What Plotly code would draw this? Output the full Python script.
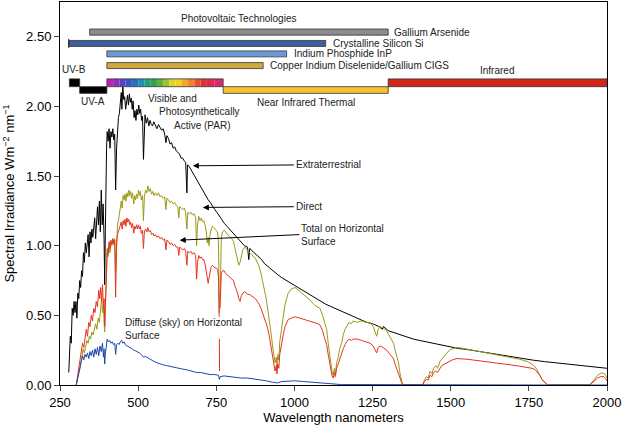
import plotly.graph_objects as go

# wavelength (nm) and irradiance (W m-2 nm-1)
extra_wl = [278, 280, 283, 286, 289, 292, 295, 298, 301, 304, 307, 310, 313, 316, 319, 322, 325, 328, 331, 334,
            337, 340, 343, 346, 349, 352, 355, 358, 361, 364, 367, 370, 373, 376, 379, 382, 385, 388, 391, 393,
            395, 397, 399, 401, 404, 407, 410, 413, 416, 419, 422, 425, 428, 431, 434, 437, 440, 443, 446, 448,
            451, 454, 457, 460, 463, 466, 469, 472, 475, 478, 481, 484, 487, 490, 493, 496, 499, 502, 505, 508,
            511, 514, 517, 519, 522, 526, 530, 534, 538, 542, 546, 550, 555, 560, 565, 570, 575, 580, 585, 589,
            592, 597, 602, 607, 612, 617, 622, 627, 632, 637, 642, 647, 652, 656, 658, 663, 668, 673, 678, 683,
            688, 693, 698, 703, 710, 717, 724, 731, 738, 745, 752, 760, 768, 776, 784, 792, 800, 810, 820, 830,
            840, 850, 854, 857, 866, 875, 885, 895, 905, 915, 925, 935, 948, 960, 975, 990, 1002, 1020, 1040, 1055,
            1070, 1085, 1100, 1120, 1140, 1160, 1180, 1200, 1215, 1231, 1250, 1270, 1282, 1285, 1300, 1320, 1338, 1360, 1380, 1400,
            1420, 1445, 1470, 1500, 1525, 1552, 1580, 1610, 1640, 1670, 1700, 1735, 1765, 1800, 1840, 1872, 1900, 1930, 1960, 2000]
extra_val = [0.09, 0.20, 0.35, 0.30, 0.55, 0.50, 0.60, 0.52, 0.60, 0.48, 0.66, 0.62, 0.75, 0.70, 0.82, 0.78, 0.95, 0.88, 1.02, 0.95,
             1.00, 1.08, 0.92, 1.10, 1.02, 1.12, 1.06, 1.15, 1.20, 1.05, 1.20, 1.28, 1.15, 1.32, 1.10, 1.40, 1.15, 1.30, 1.05, 0.72,
             1.10, 1.55, 1.70, 1.82, 1.75, 1.84, 1.70, 1.82, 1.78, 1.84, 1.76, 1.80, 1.40, 1.70, 1.88, 1.92, 1.95, 2.04, 2.10, 1.98,
             2.14, 2.05, 2.07, 1.98, 2.03, 2.08, 2.01, 2.09, 2.03, 2.06, 1.98, 2.04, 1.92, 1.97, 1.90, 1.98, 1.94, 2.01, 1.95, 1.98,
             1.90, 1.93, 1.62, 1.85, 1.94, 1.88, 1.92, 1.86, 1.90, 1.87, 1.86, 1.89, 1.86, 1.84, 1.87, 1.85, 1.83, 1.84, 1.80, 1.74,
             1.79, 1.77, 1.73, 1.74, 1.70, 1.71, 1.68, 1.67, 1.66, 1.63, 1.63, 1.61, 1.60, 1.38, 1.58, 1.57, 1.55, 1.54, 1.51, 1.49,
             1.47, 1.45, 1.44, 1.42, 1.39, 1.36, 1.33, 1.31, 1.28, 1.26, 1.24, 1.21, 1.19, 1.16, 1.14, 1.12, 1.10, 1.08, 1.05, 1.03,
             1.00, 0.99, 0.90, 0.98, 0.96, 0.94, 0.92, 0.90, 0.87, 0.85, 0.83, 0.81, 0.79, 0.77, 0.75, 0.73, 0.71, 0.69, 0.66, 0.64,
             0.62, 0.60, 0.58, 0.56, 0.54, 0.52, 0.50, 0.48, 0.47, 0.45, 0.44, 0.42, 0.40, 0.42, 0.39, 0.375, 0.36, 0.345, 0.33, 0.32,
             0.31, 0.30, 0.285, 0.27, 0.262, 0.255, 0.245, 0.232, 0.22, 0.21, 0.20, 0.185, 0.178, 0.168, 0.158, 0.15, 0.143, 0.135, 0.128, 0.12]

direct_wl = [302, 308, 314, 320, 324, 328, 332, 336, 340, 344, 348, 352, 356, 360, 364, 368, 372, 376, 380, 383,
             386, 389, 391, 393, 395, 398, 401, 404, 407, 410, 413, 416, 419, 422, 425, 428, 431, 434, 437, 440,
             443, 446, 449, 452, 455, 458, 461, 464, 467, 470, 473, 476, 479, 482, 486, 489, 492, 495, 498, 501,
             504, 507, 510, 514, 517, 520, 524, 528, 531, 535, 539, 543, 547, 551, 555, 560, 565, 570, 575, 580,
             585, 589, 592, 597, 602, 607, 612, 617, 622, 627, 630, 633, 638, 643, 648, 652, 656, 659, 664, 669,
             674, 679, 684, 687, 690, 694, 698, 702, 706, 710, 714, 718, 721, 724, 727, 730, 734, 738, 742, 746,
             750, 754, 757, 760, 763, 766, 770, 775, 780, 785, 790, 795, 800, 805, 810, 814, 818, 822, 826, 830,
             835, 841, 846, 851, 857, 863, 869, 875, 881, 887, 893, 898, 903, 908, 913, 918, 922, 926, 930, 934,
             938, 942, 944, 947, 950, 953, 957, 961, 965, 970, 975, 980, 990, 1002, 1018, 1034, 1050, 1066, 1075, 1082,
             1090, 1096, 1103, 1108, 1112, 1116, 1120, 1124, 1128, 1131, 1135, 1140, 1145, 1151, 1156, 1162, 1167, 1175, 1182, 1188,
             1200, 1215, 1228, 1242, 1252, 1258, 1263, 1268, 1274, 1283, 1290, 1295, 1302, 1310, 1317, 1322, 1327, 1333, 1338, 1344,
             1350, 1410, 1415, 1422, 1428, 1434, 1440, 1445, 1452, 1458, 1466, 1472, 1480, 1488, 1496, 1505, 1520, 1535, 1552, 1570,
             1590, 1610, 1630, 1659, 1690, 1720, 1744, 1760, 1770, 1776, 1785, 1792, 1800, 1810, 1945, 1952, 1960, 1970, 1980, 1990,
             1996, 2000]
direct_val = [0.0, 0.05, 0.12, 0.20, 0.26, 0.23, 0.28, 0.32, 0.30, 0.35, 0.33, 0.38, 0.36, 0.40, 0.44, 0.40, 0.48, 0.45, 0.55, 0.62,
              0.52, 0.56, 0.45, 0.38, 0.55, 0.82, 0.95, 0.92, 1.00, 0.95, 1.02, 1.00, 1.05, 1.02, 1.05, 0.82, 1.05, 1.15, 1.18, 1.22,
              1.28, 1.32, 1.27, 1.36, 1.33, 1.37, 1.32, 1.38, 1.35, 1.40, 1.36, 1.39, 1.34, 1.38, 1.30, 1.36, 1.33, 1.37, 1.34, 1.40,
              1.36, 1.39, 1.33, 1.36, 1.18, 1.35, 1.40, 1.38, 1.43, 1.39, 1.41, 1.37, 1.39, 1.36, 1.38, 1.36, 1.38, 1.35, 1.36, 1.34,
              1.35, 1.26, 1.34, 1.33, 1.31, 1.32, 1.30, 1.31, 1.29, 1.28, 1.20, 1.28, 1.27, 1.26, 1.27, 1.24, 1.12, 1.24, 1.23, 1.24,
              1.22, 1.23, 1.20, 1.00, 1.15, 1.21, 1.18, 1.20, 1.17, 1.18, 1.15, 1.10, 1.02, 1.06, 1.00, 1.08, 1.12, 1.14, 1.13, 1.12,
              1.11, 1.10, 1.02, 0.52, 0.70, 1.05, 1.10, 1.11, 1.10, 1.08, 1.07, 1.06, 1.05, 1.03, 0.98, 0.95, 0.90, 0.86, 0.88, 0.93,
              0.97, 0.99, 0.98, 0.96, 0.95, 0.94, 0.92, 0.91, 0.88, 0.85, 0.80, 0.75, 0.70, 0.64, 0.57, 0.50, 0.44, 0.36, 0.28, 0.22,
              0.16, 0.20, 0.13, 0.22, 0.18, 0.31, 0.38, 0.45, 0.50, 0.58, 0.62, 0.66, 0.69, 0.70, 0.67, 0.64, 0.61, 0.57, 0.56, 0.55,
              0.50, 0.45, 0.40, 0.30, 0.22, 0.16, 0.10, 0.07, 0.12, 0.08, 0.16, 0.20, 0.26, 0.30, 0.36, 0.40, 0.42, 0.45, 0.44, 0.46,
              0.45, 0.46, 0.45, 0.45, 0.42, 0.38, 0.35, 0.40, 0.42, 0.41, 0.40, 0.39, 0.36, 0.33, 0.30, 0.25, 0.20, 0.16, 0.08, 0.02,
              0.0, 0.0, 0.03, 0.06, 0.05, 0.10, 0.08, 0.12, 0.14, 0.12, 0.17, 0.19, 0.21, 0.23, 0.25, 0.26, 0.27, 0.265, 0.258, 0.25,
              0.24, 0.232, 0.223, 0.21, 0.20, 0.185, 0.17, 0.15, 0.13, 0.11, 0.07, 0.04, 0.02, 0.0, 0.0, 0.02, 0.05, 0.07, 0.085, 0.085,
              0.07, 0.05]

total_wl = [302, 306, 310, 314, 318, 322, 326, 330, 334, 338, 342, 346, 350, 354, 358, 362, 366, 370, 374, 377,
            380, 383, 386, 389, 391, 393, 395, 398, 401, 404, 407, 410, 413, 416, 419, 422, 425, 428, 431, 434,
            437, 440, 443, 446, 449, 452, 455, 458, 461, 464, 467, 470, 473, 476, 479, 482, 486, 489, 492, 495,
            498, 501, 504, 507, 510, 514, 517, 520, 524, 528, 531, 535, 539, 543, 547, 551, 555, 560, 565, 570,
            575, 580, 585, 589, 592, 597, 602, 607, 612, 617, 622, 627, 630, 633, 638, 643, 648, 652, 656, 659,
            664, 669, 674, 679, 684, 687, 690, 694, 698, 702, 706, 710, 714, 718, 721, 724, 727, 730, 734, 738,
            742, 746, 750, 754, 757, 759, 759.5, 760, 760.4, 760.8, 762, 764, 766, 770, 775, 780, 785, 790, 795, 800,
            805, 810, 814, 818, 822, 826, 830, 835, 841, 846, 851, 857, 863, 869, 875, 881, 887, 893, 898, 903,
            908, 913, 918, 922, 926, 930, 934, 938, 942, 944, 947, 950, 953, 957, 961, 965, 970, 975, 980, 990,
            1002, 1018, 1034, 1050, 1066, 1075, 1082, 1090, 1096, 1103, 1108, 1112, 1116, 1120, 1124, 1128, 1131, 1135, 1140, 1145,
            1151, 1156, 1162, 1167, 1175, 1182, 1188, 1200, 1215, 1228, 1242, 1252, 1258, 1263, 1268, 1274, 1283, 1290, 1295, 1302,
            1310, 1317, 1322, 1327, 1333, 1338, 1344, 1350, 1410, 1415, 1422, 1428, 1434, 1440, 1445, 1452, 1458, 1466, 1472, 1480,
            1488, 1505, 1520, 1535, 1552, 1570, 1590, 1610, 1630, 1659, 1690, 1720, 1744, 1760, 1770, 1776, 1785, 1792, 1800, 1810,
            1945, 1952, 1960, 1970, 1980, 1990, 1996, 2000]
total_val = [0.0, 0.06, 0.12, 0.20, 0.26, 0.30, 0.27, 0.36, 0.40, 0.35, 0.45, 0.42, 0.50, 0.46, 0.55, 0.52, 0.60, 0.56, 0.68, 0.62,
             0.70, 0.60, 0.72, 0.55, 0.62, 0.42, 0.60, 0.88, 0.98, 0.94, 1.03, 0.98, 1.04, 1.01, 1.05, 1.01, 1.04, 0.63, 1.02, 1.08,
             1.10, 1.12, 1.15, 1.17, 1.12, 1.18, 1.15, 1.19, 1.14, 1.20, 1.17, 1.19, 1.15, 1.17, 1.13, 1.16, 1.09, 1.14, 1.12, 1.15,
             1.12, 1.15, 1.12, 1.14, 1.09, 1.11, 0.98, 1.10, 1.12, 1.10, 1.13, 1.10, 1.11, 1.08, 1.09, 1.07, 1.08, 1.06, 1.07, 1.05,
             1.06, 1.04, 1.05, 0.97, 1.04, 1.03, 1.01, 1.02, 1.00, 1.01, 0.99, 0.99, 0.93, 0.99, 0.98, 0.97, 0.98, 0.96, 0.86, 0.96,
             0.95, 0.96, 0.94, 0.95, 0.93, 0.76, 0.88, 0.93, 0.91, 0.92, 0.90, 0.90, 0.87, 0.82, 0.76, 0.73, 0.77, 0.82, 0.85, 0.86,
             0.85, 0.84, 0.84, 0.83, 0.78, 0.49, None, 0.33, 0.10, None, 0.55, 0.70, 0.80, 0.82, 0.82, 0.80, 0.79, 0.78, 0.77, 0.76,
             0.75, 0.71, 0.69, 0.66, 0.62, 0.60, 0.64, 0.66, 0.67, 0.66, 0.65, 0.65, 0.64, 0.63, 0.62, 0.60, 0.58, 0.55, 0.52, 0.49,
             0.46, 0.42, 0.37, 0.32, 0.26, 0.20, 0.14, 0.10, 0.14, 0.08, 0.15, 0.12, 0.22, 0.28, 0.33, 0.37, 0.42, 0.45, 0.47, 0.48,
             0.49, 0.48, 0.47, 0.46, 0.45, 0.44, 0.43, 0.39, 0.34, 0.29, 0.22, 0.16, 0.12, 0.07, 0.05, 0.09, 0.06, 0.12, 0.15, 0.19,
             0.22, 0.26, 0.29, 0.31, 0.33, 0.32, 0.33, 0.33, 0.32, 0.31, 0.30, 0.28, 0.25, 0.23, 0.27, 0.28, 0.27, 0.26, 0.25, 0.23,
             0.21, 0.19, 0.15, 0.11, 0.08, 0.05, 0.01, 0.0, 0.0, 0.02, 0.04, 0.035, 0.07, 0.06, 0.09, 0.10, 0.09, 0.12, 0.14, 0.15,
             0.16, 0.18, 0.19, 0.19, 0.185, 0.18, 0.175, 0.17, 0.165, 0.155, 0.145, 0.135, 0.128, 0.12, 0.11, 0.095, 0.07, 0.04, 0.02, 0.0,
             0.0, 0.015, 0.035, 0.05, 0.06, 0.06, 0.045, 0.03]

diffuse_wl = [302, 306, 310, 314, 318, 322, 326, 330, 334, 338, 342, 346, 350, 354, 358, 362, 366, 370, 374, 378,
              382, 386, 389, 391, 393, 395, 398, 401, 405, 409, 413, 417, 421, 425, 428, 431, 435, 439, 443, 447,
              451, 455, 459, 463, 467, 471, 475, 480, 486, 492, 498, 504, 510, 517, 524, 531, 540, 550, 560, 570,
              580, 590, 600, 612, 625, 640, 654, 670, 687, 700, 720, 730, 745, 757, 760, 763, 775, 790, 810, 830,
              850, 870, 890, 910, 930, 945, 960, 980, 1000, 1030, 1060, 1090, 1110, 1130, 1150, 1200, 1300, 1350, 1400, 1500,
              1600, 1700, 1800, 2000]
diffuse_val = [0.0, 0.05, 0.10, 0.14, 0.17, 0.21, 0.18, 0.22, 0.20, 0.23, 0.19, 0.24, 0.21, 0.25, 0.20, 0.26, 0.22, 0.27, 0.21, 0.28,
               0.24, 0.30, 0.20, 0.26, 0.15, 0.22, 0.30, 0.33, 0.31, 0.32, 0.30, 0.31, 0.29, 0.30, 0.22, 0.29, 0.30, 0.29, 0.31, 0.32,
               0.30, 0.31, 0.29, 0.28, 0.28, 0.27, 0.27, 0.26, 0.25, 0.245, 0.24, 0.23, 0.22, 0.20, 0.205, 0.195, 0.18, 0.17, 0.16, 0.15,
               0.145, 0.14, 0.135, 0.125, 0.12, 0.115, 0.11, 0.10, 0.09, 0.09, 0.08, 0.075, 0.075, 0.07, 0.04, 0.06, 0.065, 0.06, 0.055, 0.05,
               0.05, 0.045, 0.04, 0.03, 0.02, 0.015, 0.025, 0.03, 0.03, 0.025, 0.02, 0.015, 0.008, 0.004, 0.003, 0.003, 0.002, 0.0, 0.0, 0.002,
               0.002, 0.001, 0.0, 0.0]

# photovoltaic technology bands (nm)
pv_names = ["Gallium Arsenide", "Crystalline Silicon Si", "Indium Phosphide InP", "Copper Indium Diselenide/Gallium CIGS"]
pv_start = [345, 278, 400, 400]
pv_end = [1300, 1100, 975, 900]
pv_colors = ["#8c8c8c", "#3d5f9e", "#6a9ad8", "#cfa93e"]
pv_rows = [(2.512, 2.556), (2.431, 2.474), (2.356, 2.399), (2.272, 2.315)]

# spectral regions (nm)
region_names = ["UV-B", "UV-A", "Visible and Photosynthetically Active (PAR)", "Near Infrared Thermal", "Infrared"]
region_start = [280, 313, 400, 772, 1300]
region_end = [313, 400, 772, 1300, 2000]
region_colors = ["black", "black", None, "#f7c12f", "#d2261a"]
region_rows = [(2.142, 2.198), (2.094, 2.142), (2.142, 2.198), (2.094, 2.142), (2.142, 2.198)]

# colours along the visible bar
rainbow_wl = [400, 420, 440, 460, 480, 500, 520, 540, 560, 580, 600, 620, 640, 660, 680, 700, 720, 745, 772]
rainbow_col = ["#c020b0", "#9030b8", "#6040c0", "#3858c0", "#2a70c0", "#2090b0", "#20a080", "#30a050", "#60b040",
               "#a0c030", "#d8d828", "#f0d020", "#f0a828", "#f08030", "#e85030", "#e03038", "#e02850", "#d82870"]

fig = go.Figure()

fig.add_trace(go.Scatter(x=extra_wl, y=extra_val, mode='lines', line=dict(color='black', width=1), name='Extraterrestrial'))
fig.add_trace(go.Scatter(x=direct_wl, y=direct_val, mode='lines', line=dict(color='#9a9a18', width=1), name='Direct'))
fig.add_trace(go.Scatter(x=total_wl, y=total_val, mode='lines', line=dict(color='#e8321e', width=1), connectgaps=False,
                         name='Total on Horizontal Surface'))
fig.add_trace(go.Scatter(x=diffuse_wl, y=diffuse_val, mode='lines', line=dict(color='#1f45b0', width=1), name='Diffuse'))

shapes = []
for i in range(len(pv_names)):
    shapes.append(dict(type='rect', xref='x', yref='y', x0=pv_start[i], x1=pv_end[i], y0=pv_rows[i][0], y1=pv_rows[i][1],
                       fillcolor=pv_colors[i], line=dict(color='#333333', width=0.8)))
for i in range(len(region_names)):
    if region_colors[i] is None:
        continue
    shapes.append(dict(type='rect', xref='x', yref='y', x0=region_start[i], x1=region_end[i], y0=region_rows[i][0],
                       y1=region_rows[i][1], fillcolor=region_colors[i], line=dict(color='#333333', width=0.8)))
for i in range(len(rainbow_col)):
    shapes.append(dict(type='rect', xref='x', yref='y', x0=rainbow_wl[i], x1=rainbow_wl[i + 1], y0=region_rows[2][0],
                       y1=region_rows[2][1], fillcolor=rainbow_col[i], line=dict(width=0)))
shapes.append(dict(type='rect', xref='x', yref='y', x0=region_start[2], x1=region_end[2], y0=region_rows[2][0],
                   y1=region_rows[2][1], line=dict(color='#333333', width=0.8)))
# little end mark on the silicon bar
shapes.append(dict(type='line', xref='x', yref='y', x0=pv_start[1], x1=pv_start[1], y0=2.42, y1=2.485,
                   line=dict(color='#222222', width=1)))

txt = dict(family='Liberation Sans, Arial', size=10, color='#222222')
ann = []
ann.append(dict(x=822, y=2.635, text='Photovoltaic Technologies', showarrow=False, font=txt))
ann.append(dict(x=1313, y=2.533, text=pv_names[0], showarrow=False, xanchor='left', font=txt))
ann.append(dict(x=1117, y=2.452, text=pv_names[1], showarrow=False, xanchor='left', font=txt))
ann.append(dict(x=992, y=2.378, text=pv_names[2], showarrow=False, xanchor='left', font=txt))
ann.append(dict(x=915, y=2.294, text=pv_names[3], showarrow=False, xanchor='left', font=txt))
ann.append(dict(x=296, y=2.262, text='UV-B', showarrow=False, font=txt))
ann.append(dict(x=354, y=2.037, text='UV-A', showarrow=False, font=txt))
ann.append(dict(x=610, y=2.058, text='Visible and', showarrow=False, font=txt))
ann.append(dict(x=697, y=1.966, text='Photosynthetically', showarrow=False, font=txt))
ann.append(dict(x=707, y=1.866, text='Active (PAR)', showarrow=False, font=txt))
ann.append(dict(x=1037, y=2.030, text='Near Infrared Thermal', showarrow=False, font=txt))
ann.append(dict(x=1649, y=2.258, text='Infrared', showarrow=False, font=txt))
ann.append(dict(x=450, y=0.405, text='Diffuse (sky) on Horizontal<br>Surface', showarrow=False, xanchor='left',
                align='left', font=txt))

# curve labels with arrows: label, head (wl, value), tail (wl, value)
arrow_labels = ['Extraterrestrial', 'Direct', 'Total on Horizontal<br>Surface']
arrow_heads = [(675, 1.574), (707, 1.275), (633, 1.04)]
arrow_tails = [(998, 1.58), (998, 1.28), (1016, 1.08)]
for lab, (hx, hy), (tx, ty) in zip(arrow_labels, arrow_heads, arrow_tails):
    ann.append(dict(x=hx, y=hy, ax=tx, ay=ty, axref='x', ayref='y', text=lab, showarrow=True, xanchor='left',
                    align='left', font=txt, arrowhead=2, arrowsize=1.2, arrowwidth=1, arrowcolor='black', standoff=0))

fig.update_layout(
    width=622, height=425, autosize=False,
    margin=dict(l=60, r=15, t=1, b=39),
    paper_bgcolor='white', plot_bgcolor='white',
    showlegend=False,
    shapes=shapes, annotations=ann,
    font=dict(family='Liberation Sans, Arial', size=13, color='black'),
)
fig.update_xaxes(range=[250, 2000], tickmode='linear', tick0=250, dtick=250, ticks='outside', ticklen=5,
                 showline=True, linecolor='black', linewidth=1, mirror=True, showgrid=False, zeroline=False,
                 title=dict(text='Wavelength nanometers', font=dict(size=13), standoff=5))
fig.update_yaxes(range=[0, 2.75], tickvals=[0, 0.5, 1.0, 1.5, 2.0, 2.5], tickformat='.2f', ticks='outside', ticklen=5,
                 showline=True, linecolor='black', linewidth=1, mirror=True, showgrid=False, zeroline=False,
                 title=dict(text='Spectral Irradiance Wm<sup>−2</sup> nm<sup>−1</sup>', font=dict(size=13), standoff=8))

# page has a default body margin, drop it so the figure sits at the corner
fig.write_html("out.html", config={'displayModeBar': False}, post_script="document.body.style.margin='0';")
